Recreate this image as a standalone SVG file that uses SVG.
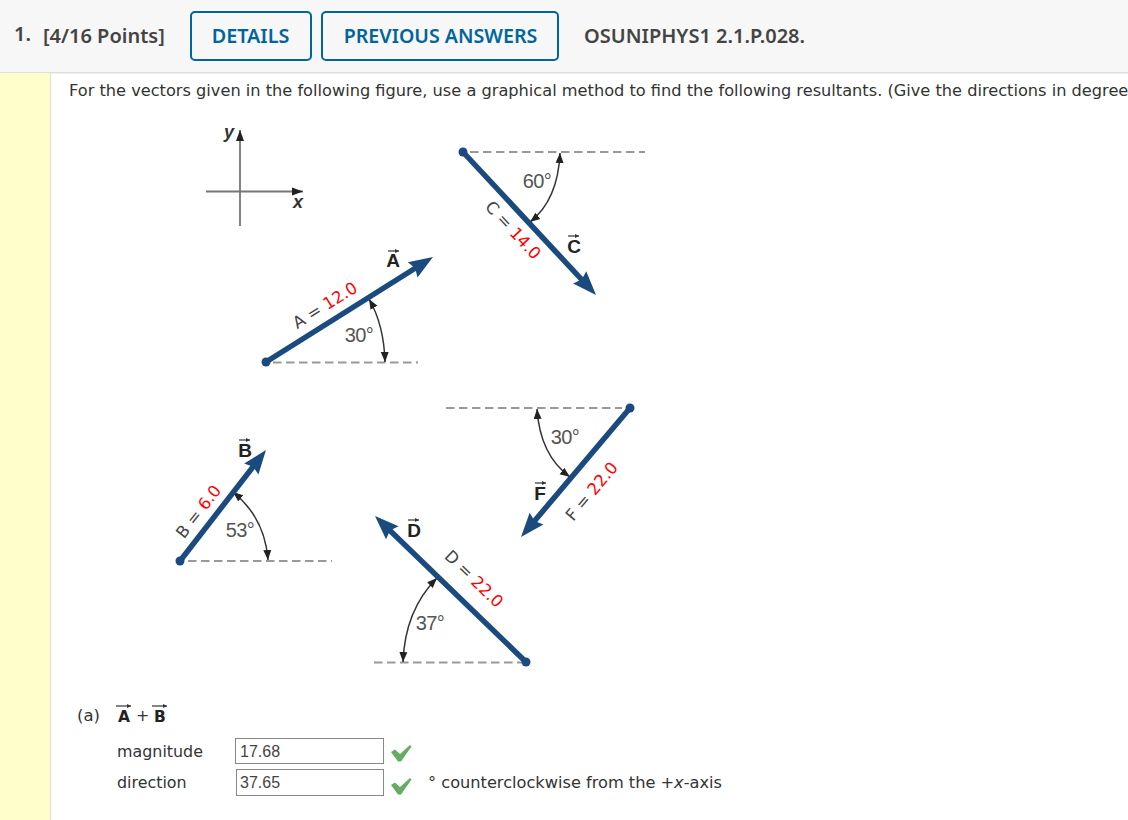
<svg xmlns="http://www.w3.org/2000/svg" width="1128" height="820" viewBox="0 0 1128 820">
<style>
.h{font-family:"Noto Sans","Open Sans",sans-serif;font-size:20px;font-weight:600;}
.b{font-family:"DejaVu Sans",sans-serif;font-size:16.2px;fill:#333;}
.l{font-family:"DejaVu Sans",sans-serif;font-size:15.9px;fill:#333;}
.btn{fill:none;stroke:#00659c;stroke-width:2;}
.vec{fill:none;stroke:#1b4a7e;stroke-width:5.500;marker-end:url(#bigHead);}
.dot{fill:#1b4a7e;}
.dash{fill:none;stroke:#999;stroke-width:2;stroke-dasharray:8.500 4.500;}
.arc{fill:none;stroke:#333;stroke-width:1.500;marker-start:url(#smallHead);marker-end:url(#smallHead);}
.axis{fill:none;stroke:#777;stroke-width:1.800;}
.deg{font-family:"Liberation Sans",sans-serif;font-size:20px;letter-spacing:-0.6px;fill:#555;text-anchor:middle;}
.mag{font-family:"DejaVu Sans",sans-serif;font-size:16.500px;fill:#444;text-anchor:middle;}
.red{fill:#f00;}
.name{font-family:"Liberation Sans",sans-serif;font-size:19px;font-weight:700;fill:#222;text-anchor:middle;}
.ax{font-family:"Liberation Sans",sans-serif;font-size:18px;font-weight:700;font-style:italic;fill:#333;text-anchor:middle;}
.over{fill:none;stroke:#333;stroke-width:1.200;marker-end:url(#tinyHead);}
.box{fill:#fff;stroke:#888;stroke-width:1;}
.val{font-family:"Liberation Sans",sans-serif;font-size:16px;fill:#444;}
.chk{fill:#62ad62;}
</style>
<defs>
<marker id="bigHead" markerUnits="userSpaceOnUse" viewBox="-10 -12 30 24" refX="0" refY="0" markerWidth="30" markerHeight="24" orient="auto"><path d="M15,0 L-9,-9 L-6,0 L-9,9 Z" fill="#1b4a7e"/></marker>
<marker id="smallHead" markerUnits="userSpaceOnUse" viewBox="-10 -5 12 10" refX="0" refY="0" markerWidth="12" markerHeight="10" orient="auto-start-reverse"><path d="M0,0 L-10,-4 L-10,4 Z" fill="#222"/></marker>
<marker id="axisHead" markerUnits="userSpaceOnUse" viewBox="-12 -5 14 10" refX="0" refY="0" markerWidth="14" markerHeight="10" orient="auto"><path d="M0,0 L-11,-4 L-11,4 Z" fill="#222"/></marker>
<marker id="tinyHead" markerUnits="userSpaceOnUse" viewBox="-5 -3 6 6" refX="0" refY="0" markerWidth="6" markerHeight="6" orient="auto"><path d="M0,0 L-4,-2 L-4,2 Z" fill="#333"/></marker>
</defs>
<rect width="1128" height="820" fill="#fff"/>
<g id="header">
<rect width="1128" height="72" fill="#f7f7f7"/>
<rect y="72" width="1128" height="1.500" fill="#ddd"/>
<text class="h" x="14" y="41" fill="#444">1.</text>
<text class="h" x="43" y="43" fill="#444">[4/16 Points]</text>
</g>
<g id="btn-details"><rect class="btn" x="191" y="12" width="120" height="48" rx="4"/><text class="h" x="250.500" y="43" fill="#00659c" text-anchor="middle" style="font-size:19.800px">DETAILS</text></g>
<g id="btn-previous"><rect class="btn" x="322" y="12" width="236" height="48" rx="4"/><text class="h" x="440.500" y="43" fill="#00659c" text-anchor="middle" style="font-size:19.600px">PREVIOUS ANSWERS</text></g>
<g id="question-ref"><text class="h" x="584" y="43" fill="#444">OSUNIPHYS1 2.1.P.028.</text></g>
<g id="sidebar"><rect x="0" y="73" width="50" height="747" fill="#ffffcc"/><rect x="50" y="73" width="1" height="747" fill="#ddd"/></g>
<g id="prompt"><text class="b" x="69" y="96">For the vectors given in the following figure, use a graphical method to find the following resultants. (Give the directions in degree</text></g>
<g id="axes">
<path class="axis" d="M240,226 V130" marker-end="url(#axisHead)"/>
<path class="axis" d="M206,191.500 H303" marker-end="url(#axisHead)"/>
<text class="ax" x="229" y="138">y</text><text class="ax" x="298" y="208">x</text>
</g>
<g id="vector-a">
<path class="dash" d="M273,362.500 H418"/>
<path class="arc" d="M369,299 Q384,325 385,362"/>
<path class="vec" d="M266,362 L420.300,265"/>
<circle class="dot" cx="266" cy="362" r="4.500"/>
<text class="deg" x="359" y="342">30°</text>
<text class="mag" transform="translate(328,310) rotate(-32)">A = <tspan class="red">12.0</tspan></text>
<text class="name" x="393" y="267">A</text><path class="over" d="M388,251 H399"/>
</g>
<g id="vector-b">
<path class="dash" d="M188,561 H332"/>
<path class="arc" d="M233,492 Q265,518 268,560"/>
<path class="vec" d="M180,561 L256.800,461.900"/>
<circle class="dot" cx="180" cy="561" r="4.500"/>
<text class="deg" x="240" y="537">53°</text>
<text class="mag" transform="translate(203,515) rotate(-52)">B = <tspan class="red">6.0</tspan></text>
<text class="name" x="245" y="457">B</text><path class="over" d="M239,440 H250"/>
</g>
<g id="vector-c">
<path class="dash" d="M470,152 H645"/>
<path class="arc" d="M530,222 Q558,200 560,153"/>
<path class="vec" d="M463,152 L585.800,284"/>
<circle class="dot" cx="463" cy="152" r="4.500"/>
<text class="deg" x="537" y="188">60°</text>
<text class="mag" transform="translate(509,234) rotate(47)">C = <tspan class="red">14.0</tspan></text>
<text class="name" x="574" y="253">C</text><path class="over" d="M568,236 H579"/>
</g>
<g id="vector-d">
<path class="dash" d="M374,662.500 H526"/>
<path class="arc" d="M437,578 Q405,610 403,662"/>
<path class="vec" d="M526,662 L385.800,526.400"/>
<circle class="dot" cx="526" cy="662" r="4.500"/>
<text class="deg" x="430" y="630">37°</text>
<text class="mag" transform="translate(470,583) rotate(44)">D = <tspan class="red">22.0</tspan></text>
<text class="name" x="414" y="537">D</text><path class="over" d="M408,520 H419"/>
</g>
<g id="vector-f">
<path class="dash" d="M446,408 H622"/>
<path class="arc" d="M570,477 Q540,455 537,409"/>
<path class="vec" d="M630,408 L530.700,525.500"/>
<circle class="dot" cx="630" cy="408" r="4.500"/>
<text class="deg" x="565" y="444">30°</text>
<text class="mag" transform="translate(596,495) rotate(-50)">F = <tspan class="red">22.0</tspan></text>
<text class="name" x="540" y="500">F</text><path class="over" d="M535,483 H546"/>
</g>
<g id="part-a">
<text class="b" x="77" y="721" style="font-size:16.500px">(a)</text>
<text class="name" x="124" y="722" style="font-family:'DejaVu Sans',sans-serif;font-size:15.500px">A</text>
<path class="over" d="M116,706 H131"/>
<text class="l" x="136" y="721">+</text>
<text class="name" x="160" y="722" style="font-family:'DejaVu Sans',sans-serif;font-size:15.500px">B</text>
<path class="over" d="M152,706 H167"/>
</g>
<g id="magnitude">
<text class="l" x="117" y="757">magnitude</text>
<rect class="box" x="235.500" y="738.500" width="148" height="25"/>
<text class="val" x="240" y="757">17.68</text>
<path class="chk" d="M391,752 L395,749.500 L400,754 L410,745 L411.500,746.500 L401,761.500 L398,761.500 Z"/>
</g>
<g id="direction">
<text class="l" x="117" y="788">direction</text>
<rect class="box" x="236.500" y="769.500" width="147" height="26"/>
<text class="val" x="240" y="788">37.65</text>
<path class="chk" d="M391,785 L395,782.500 L400,787 L410,778 L411.500,779.500 L401,794.500 L398,794.500 Z"/>
<text class="b" x="428" y="788">° counterclockwise from the +<tspan font-style="italic">x</tspan>-axis</text>
</g>
</svg>
